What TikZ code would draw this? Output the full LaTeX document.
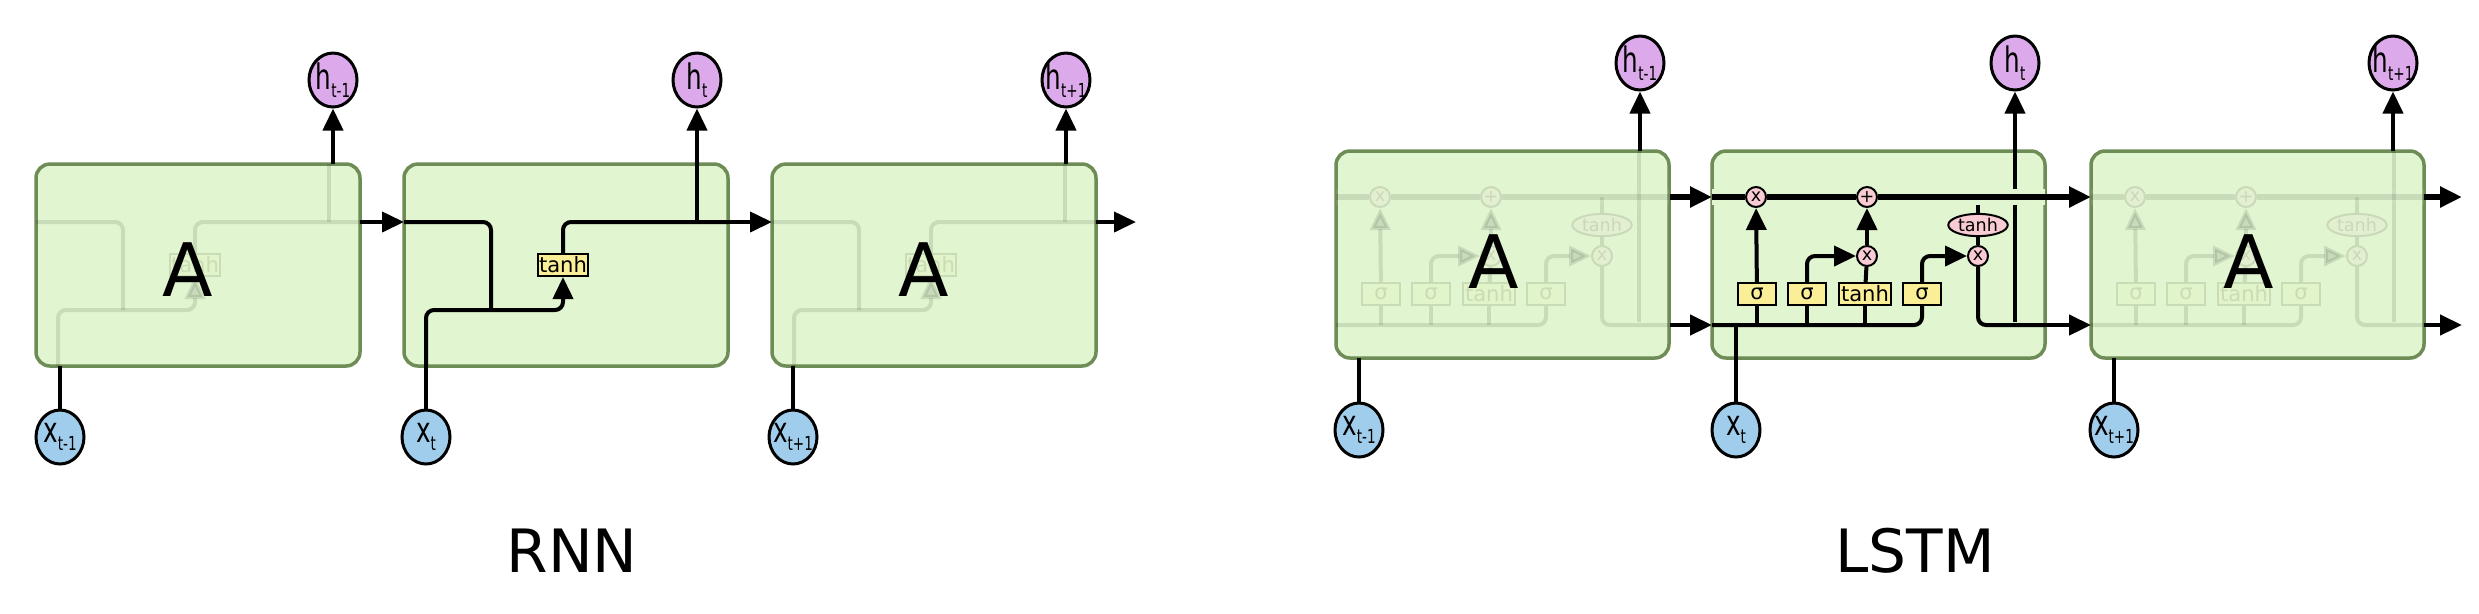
\documentclass[tikz,border=0pt]{standalone}
\usepackage{fontspec}
\setmainfont{DejaVu Sans}
\usetikzlibrary{arrows.meta,shapes.geometric}

\definecolor{cellfill}{RGB}{224,245,208}
\definecolor{celldraw}{RGB}{110,140,85}
\definecolor{gatefill}{RGB}{250,238,150}
\definecolor{opfill}{RGB}{248,204,210}
\definecolor{hfill}{RGB}{220,170,235}
\definecolor{xfill}{RGB}{160,205,235}

\tikzset{
  cell/.style={draw=celldraw, fill=cellfill, line width=0.35mm, rounded corners=1.4mm},
  flow/.style={line width=0.4mm, rounded corners=0.8mm},
  tip/.style={-{Triangle[length=2.2mm,width=2mm]}},
  gate/.style={draw, fill=gatefill, line width=0.2mm, inner sep=0pt, minimum height=2.2mm, minimum width=3.8mm, font=\fontsize{6}{6}\selectfont},
  op/.style={draw, fill=opfill, circle, line width=0.2mm, inner sep=0pt, minimum size=2mm, font=\fontsize{5}{5}\selectfont},
  opell/.style={draw, fill=opfill, ellipse, line width=0.2mm, inner sep=0.3pt, minimum height=2mm, font=\fontsize{5}{5}\selectfont},
  hnode/.style={draw, fill=hfill, ellipse, line width=0.3mm, inner sep=0pt, minimum width=4.8mm, minimum height=5.4mm, font=\fontsize{10}{10}\selectfont},
  xnode/.style={hnode, fill=xfill},
  faded/.style={opacity=0.1},
  big/.style={font=\fontsize{21}{21}\selectfont}
}
\newcommand{\lbl}[2]{\makebox[0pt]{\scalebox{0.7}[1]{#1\raisebox{-0.4ex}{\fontsize{5.5}{5.5}\selectfont #2}}}}

% inside of the RNN cell, origin at the top left corner of the box
\newcommand{\rnninner}{
  \node[gate, minimum width=5mm] (tn) at (159,101) {tanh};
  \draw[flow] (0,58) -| (87,146);
  \draw[flow, tip] (22,202) |- (159,146) -- (tn.south);
  \draw[flow] (tn.north) |- (293,58) -- (324,58);
  \draw[flow] (293,58) -- (293,0);
}

% inside of the LSTM cell, origin at the top left corner of the box
\newcommand{\lstminner}{
  \node[op] (fx) at (44,46) {x};
  \node[op] (ad) at (155,46) {+};
  \node[op] (ix) at (155,105) {x};
  \node[op] (ox) at (266,105) {x};
  \node[opell] (th) at (266,74) {tanh};
  \node[gate] (g1) at (45,143) {σ};
  \node[gate] (g2) at (95,143) {σ};
  \node[gate, minimum width=5.2mm] (g3) at (153,143) {tanh};
  \node[gate] (g4) at (210,143) {σ};
  \draw[flow] (0,174) -| (g4.south);
  \draw[flow] (g1.south) -- (45,174);
  \draw[flow] (g2.south) -- (95,174);
  \draw[flow] (g3.south) -- (153,174);
  \draw[flow, tip] (g1) -- (fx);
  \draw[flow, tip] (g2.north) |- (ix);
  \draw[flow] (g3) -- (ix);
  \draw[flow, tip] (ix) -- (ad);
  \draw[flow, tip] (g4.north) |- (ox);
  \draw[flow] (th) -- (ox);
  \draw[flow] (th) -- (266,46);
  \draw[flow] (ox) |- (333,174);
  \draw[flow] (303,171) -- (303,0);
  \draw[line width=0.6mm, preaction={draw=cellfill, line width=1.6mm}] (0,46) -- (fx) -- (ad) -- (333,46);
}

\begin{document}
\begin{tikzpicture}[x=0.1mm, y=-0.1mm]
  \useasboundingbox (0,0) rectangle (2479,613);

  % ---------------- RNN ----------------
  \foreach \ox in {36,772} {
    \draw[cell] (\ox,164) rectangle ++(324,202);
    \begin{scope}[shift={(\ox,164)}, faded]
      \rnninner
    \end{scope}
  }
  \draw[cell] (404,164) rectangle ++(324,202);
  \begin{scope}[shift={(404,164)}]
    \rnninner
  \end{scope}
  \node[big] (ra1) at (188,270) {A};
  \node[big] (ra3) at (924,270) {A};

  \node[hnode] (rh1) at (333,80) {\lbl{h}{t-1}};
  \node[hnode] (rh2) at (697,80) {\lbl{h}{t}};
  \node[hnode] (rh3) at (1066,80) {\lbl{h}{t+1}};
  \node[xnode] (rx1) at (60,437) {\lbl{x}{t-1}};
  \node[xnode] (rx2) at (426,437) {\lbl{x}{t}};
  \node[xnode] (rx3) at (793,437) {\lbl{x}{t+1}};

  \coordinate (rt1) at (333,164);
  \coordinate (rt2) at (697,164);
  \coordinate (rt3) at (1066,164);
  \coordinate (rb1) at (60,366);
  \coordinate (rb2) at (426,366);
  \coordinate (rb3) at (793,366);
  \draw[flow, tip] (rt1) -- (rh1);
  \draw[flow, tip] (rt2) -- (rh2);
  \draw[flow, tip] (rt3) -- (rh3);
  \draw[flow] (rx1) -- (rb1);
  \draw[flow] (rx2) -- (rb2);
  \draw[flow] (rx3) -- (rb3);

  \coordinate (rr1) at (360,222);
  \coordinate (rl2) at (404,222);
  \coordinate (rr2) at (728,222);
  \coordinate (rl3) at (772,222);
  \coordinate (rr3) at (1096,222);
  \coordinate (rout) at (1136,222);
  \draw[flow, tip] (rr1) -- (rl2);
  \draw[flow, tip] (rr2) -- (rl3);
  \draw[flow, tip] (rr3) -- (rout);

  \node[font=\fontsize{17}{17}\selectfont] (rnn) at (572,551) {RNN};

  % ---------------- LSTM ----------------
  \foreach \ox in {1336,2091} {
    \draw[cell] (\ox,151) rectangle ++(333,207);
    \begin{scope}[shift={(\ox,151)}, faded]
      \lstminner
    \end{scope}
  }
  \draw[cell] (1712,151) rectangle ++(333,207);
  \begin{scope}[shift={(1712,151)}]
    \lstminner
  \end{scope}
  \node[big] (la1) at (1494,262) {A};
  \node[big] (la3) at (2249,262) {A};

  \node[hnode] (lh1) at (1640,63) {\lbl{h}{t-1}};
  \node[hnode] (lh2) at (2015,63) {\lbl{h}{t}};
  \node[hnode] (lh3) at (2393,63) {\lbl{h}{t+1}};
  \node[xnode] (lx1) at (1359,430) {\lbl{x}{t-1}};
  \node[xnode] (lx2) at (1736,430) {\lbl{x}{t}};
  \node[xnode] (lx3) at (2114,430) {\lbl{x}{t+1}};

  \coordinate (lt1) at (1640,151);
  \coordinate (lt2) at (2015,151);
  \coordinate (lt3) at (2393,151);
  \coordinate (lb1) at (1359,358);
  \coordinate (lb2) at (1736,325);
  \coordinate (lb3) at (2114,358);
  \draw[flow, tip] (lt1) -- (lh1);
  \draw[flow, tip] (lt2) -- (lh2);
  \draw[flow, tip] (lt3) -- (lh3);
  \draw[flow] (lx1) -- (lb1);
  \draw[flow] (lx2) -- (lb2);
  \draw[flow] (lx3) -- (lb3);

  \foreach \yy/\w in {197/0.6mm, 325/0.45mm} {
    \draw[line width=\w, tip] (1670,\yy) -- (1712,\yy);
    \draw[line width=\w, tip] (2045,\yy) -- (2091,\yy);
    \draw[line width=\w, tip] (2424,\yy) -- (2462,\yy);
  }

  \node[font=\fontsize{17}{17}\selectfont] (lstm) at (1915,551) {LSTM};
\end{tikzpicture}
\end{document}
